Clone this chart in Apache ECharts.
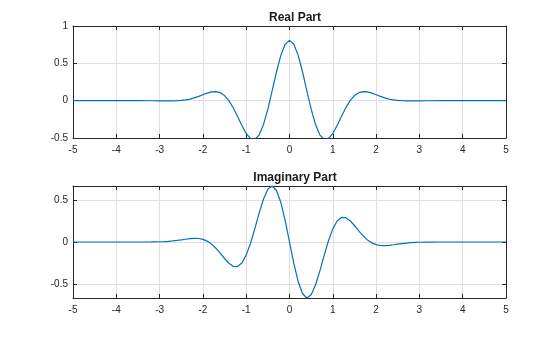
<!DOCTYPE html>
<html>
<head>
<meta charset="utf-8">
<script src="https://cdn.jsdelivr.net/npm/echarts@6/dist/echarts.min.js"></script>
<style>
html,body{margin:0;padding:0;background:#fff;}
#c{width:560px;height:337px;}
</style>
</head>
<body>
<div id="c"></div>
<script>
var titles = ['Real Part', 'Imaginary Part'];
var xs = [-5,-4,-3.5,-3.2,
 -3,-2.9,-2.8,-2.7,-2.6,-2.5,-2.4,-2.3,-2.2,-2.1,
 -2,-1.9,-1.8,-1.7,-1.6,-1.5,-1.4,-1.3,-1.2,-1.1,
 -1,-0.9,-0.8,-0.7,-0.6,-0.5,-0.4,-0.3,-0.2,-0.1,
 0,
 0.1,0.2,0.3,0.4,0.5,0.6,0.7,0.8,0.9,1,
 1.1,1.2,1.3,1.4,1.5,1.6,1.7,1.8,1.9,2,
 2.1,2.2,2.3,2.4,2.5,2.6,2.7,2.8,2.9,3,
 3.2,3.5,4,5];
var realVals = [0,0,-0.0003,-0.0012,
 -0.0023,-0.0028,-0.0030,-0.0025,-0.0006,0.0034,0.0106,0.0217,0.0372,0.0569,
 0.0792,0.1010,0.1174,0.1219,0.1075,0.0681,-0.0001,-0.0957,-0.2112,-0.3324,
 -0.4393,-0.5089,-0.5199,-0.4575,-0.3183,-0.1129,0.1341,0.3872,0.6065,0.7553,
 0.808,
 0.7553,0.6065,0.3872,0.1341,-0.1129,-0.3183,-0.4575,-0.5199,-0.5089,-0.4393,
 -0.3324,-0.2112,-0.0957,-0.0001,0.0681,0.1075,0.1219,0.1174,0.1010,0.0792,
 0.0569,0.0372,0.0217,0.0106,0.0034,-0.0006,-0.0025,-0.0030,-0.0028,-0.0023,
 -0.0012,-0.0003,0,0];
var imagVals = [0,0,0.0001,0.0009,
 0.0031,0.0053,0.0084,0.0129,0.0186,0.0255,0.0328,0.0394,0.0433,0.0418,
 0.0317,0.0101,-0.0250,-0.0737,-0.1330,-0.1961,-0.2525,-0.2890,-0.2917,-0.2493,
 -0.1560,-0.0151,0.1598,0.3453,0.5114,0.6267,0.6652,0.6125,0.4697,0.2548,
 0,
 -0.2548,-0.4697,-0.6125,-0.6652,-0.6267,-0.5114,-0.3453,-0.1598,0.0151,0.1560,
 0.2493,0.2917,0.2890,0.2525,0.1961,0.1330,0.0737,0.0250,-0.0101,-0.0317,
 -0.0418,-0.0433,-0.0394,-0.0328,-0.0255,-0.0186,-0.0129,-0.0084,-0.0053,-0.0031,
 -0.0009,-0.0001,0,0];
var xTicks = [-5,-4,-3,-2,-1,0,1,2,3,4,5];
var realYTicks = [-0.5,0,0.5,1];
var imagYTicks = [-0.5,0,0.5];
var realYRange = [-0.5, 1];
var imagYRange = [-0.6655, 0.6655];

function pairs(x, y){ return x.map(function(v,i){ return [v, y[i]]; }); }

var axisColor = '#262626';
var gridColor = '#dfdfdf';
var fontFam = 'Liberation Sans, Arial, sans-serif';

function xAxisDef(g, pos){
  var bottom = pos === 'bottom';
  return {
    type:'value', gridIndex:g, position:pos, min:-5, max:5, interval:1,
    axisLine:{show:true, onZero:false, lineStyle:{color:axisColor, width:1}},
    axisTick:{show:true, inside:true, length:4, lineStyle:{color:axisColor}},
    axisLabel:{show:bottom, color:axisColor, fontSize:10, fontFamily:fontFam, margin:7,
      customValues: xTicks},
    splitLine:{show:bottom, lineStyle:{color:gridColor, width:1}}
  };
}
function yAxisDef(g, pos, range, ticks){
  var left = pos === 'left';
  return {
    type:'value', gridIndex:g, position:pos, min:range[0], max:range[1],
    axisLine:{show:true, onZero:false, lineStyle:{color:axisColor, width:1}},
    axisTick:{show:true, inside:true, length:4, lineStyle:{color:axisColor}, customValues: ticks},
    axisLabel:{show:left, color:axisColor, fontSize:10, fontFamily:fontFam, margin:5, customValues: ticks},
    splitLine:{show:left, lineStyle:{color:gridColor, width:1}}
  };
}

var chart = echarts.init(document.getElementById('c'), null, {renderer:'canvas'});
chart.setOption({
  animation:false,
  backgroundColor:'#ffffff',
  title:[
    {text:titles[0], left:290, top:7, textAlign:'center',
     textStyle:{fontSize:12, fontWeight:'bold', color:'#1a1a1a', fontFamily:fontFam}},
    {text:titles[1], left:290, top:167, textAlign:'center',
     textStyle:{fontSize:12, fontWeight:'bold', color:'#1a1a1a', fontFamily:fontFam}}
  ],
  grid:[
    {left:73, top:26, width:433, height:112},
    {left:73, top:186, width:433, height:112}
  ],
  xAxis:[xAxisDef(0,'bottom'), xAxisDef(0,'top'), xAxisDef(1,'bottom'), xAxisDef(1,'top')],
  yAxis:[yAxisDef(0,'left',realYRange,realYTicks), yAxisDef(0,'right',realYRange,realYTicks),
         yAxisDef(1,'left',imagYRange,imagYTicks), yAxisDef(1,'right',imagYRange,imagYTicks)],
  series:[
    {type:'line', xAxisIndex:0, yAxisIndex:0, data:pairs(xs, realVals), showSymbol:false,
     clip:true, lineStyle:{color:'#0072BD', width:1.2}, itemStyle:{color:'#0072BD'}},
    {type:'line', xAxisIndex:2, yAxisIndex:2, data:pairs(xs, imagVals), showSymbol:false,
     clip:true, lineStyle:{color:'#0072BD', width:1.2}, itemStyle:{color:'#0072BD'}}
  ]
});
</script>
</body>
</html>
